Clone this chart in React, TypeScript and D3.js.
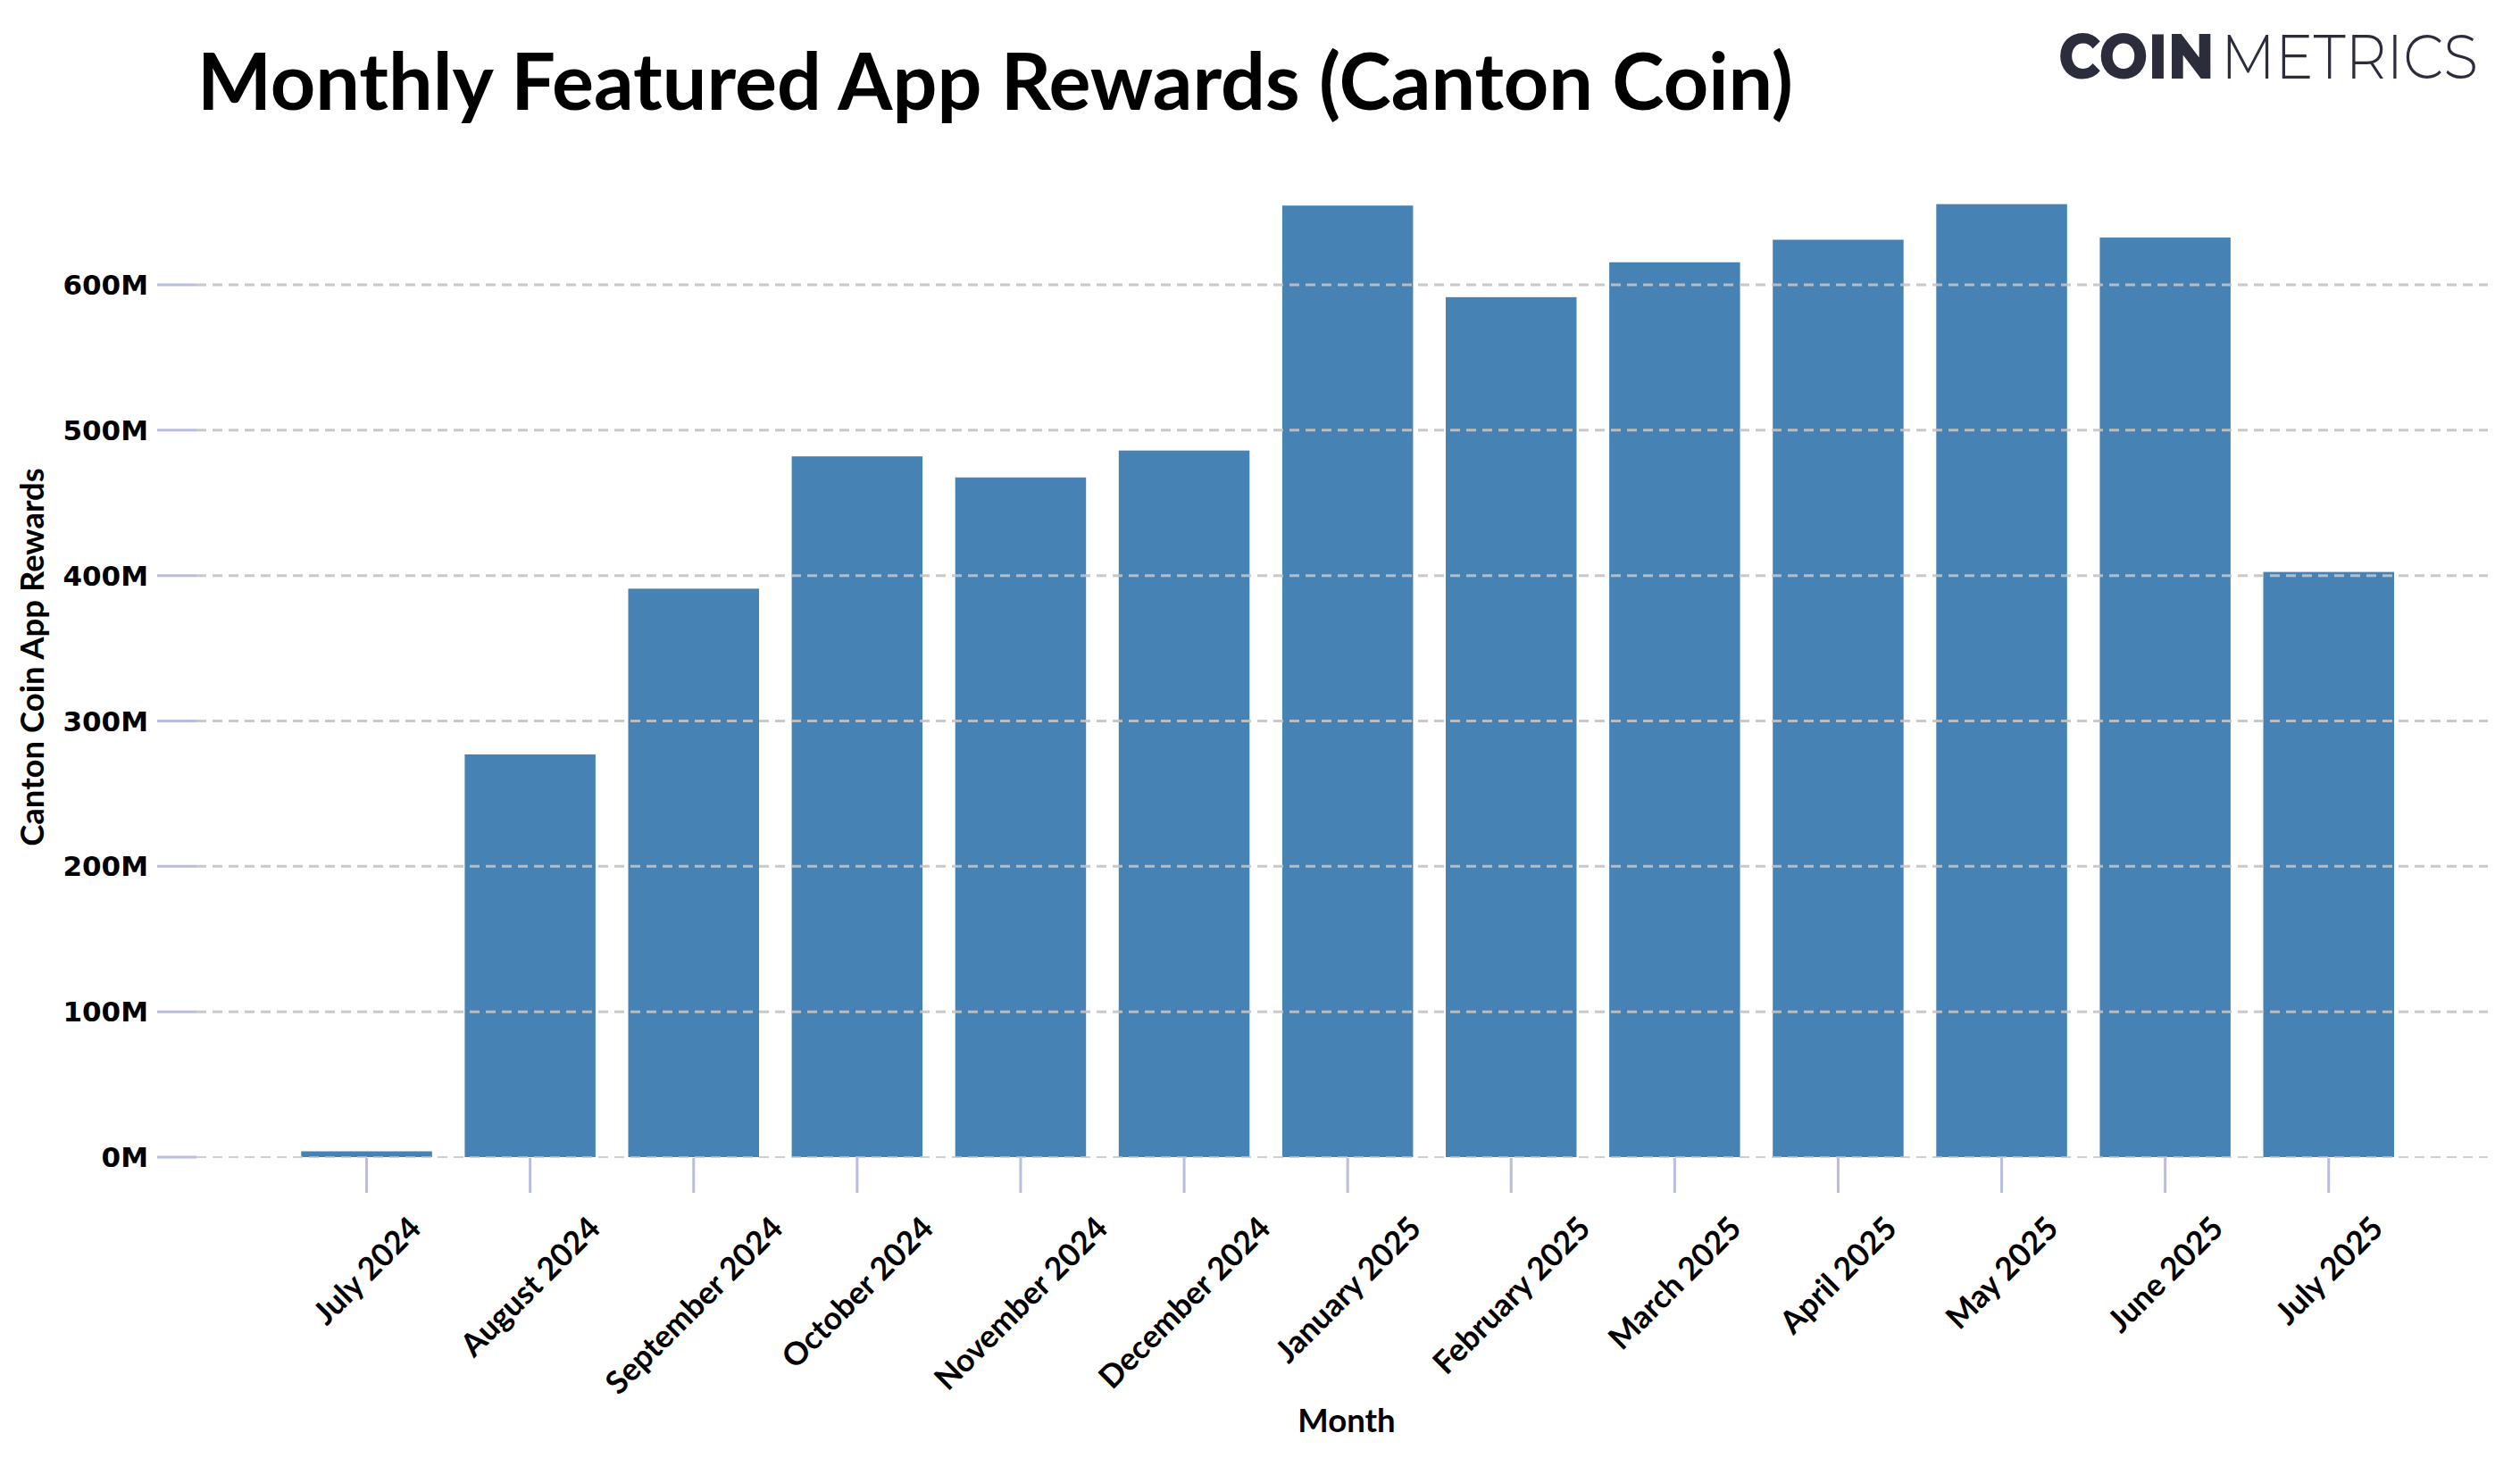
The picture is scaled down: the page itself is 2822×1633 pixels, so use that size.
import React from "react";
import * as d3 from "d3";

const months = [
  "July 2024", "August 2024", "September 2024", "October 2024", "November 2024",
  "December 2024", "January 2025", "February 2025", "March 2025", "April 2025",
  "May 2025", "June 2025", "July 2025",
];
const rewards = [
  4.0e6, 277e6, 391e6, 482e6, 467.5e6, 486e6, 654.5e6, 591.5e6, 615.5e6, 631e6,
  655.5e6, 632.5e6, 402.5e6,
];
const yTicks = [0, 100e6, 200e6, 300e6, 400e6, 500e6, 600e6];

const W = 2822;
const H = 1633;
const FONT = "Lato, 'Noto Sans', sans-serif";
const TICK_FONT_SIZE = 35.5;

let measureCtx: CanvasRenderingContext2D | null = null;
function textWidth(s: string, font: string): number {
  if (typeof document === "undefined") return s.length * 17;
  if (!measureCtx) measureCtx = document.createElement("canvas").getContext("2d");
  if (!measureCtx) return s.length * 17;
  measureCtx.font = font;
  return measureCtx.measureText(s).width;
}

export default function App() {
  const x = d3.scaleBand<string>().domain(months).range([319, 2699.3]).paddingInner(0.2).paddingOuter(0.1);
  const y = d3.scaleLinear().domain([0, 600e6]).range([1296, 319]);
  const fmt = (v: number) => `${Math.round(v / 1e6)}M`;
  const gridX0 = 220;
  const gridX1 = 2786;
  const tickColor = "#b9bde0";
  const capH = 25;

  return (
    <svg width={W} height={H} style={{ position: "absolute", left: 0, top: 0, background: "#fff" }}>
      <rect x={0} y={0} width={W} height={H} fill="#fff" />
      <text x={221} y={123} fontFamily={FONT} fontWeight={700} fontSize={88} fill="#000">
        Monthly Featured App Rewards (Canton Coin)
      </text>
      <text x={2305} y={88} fontFamily="Montserrat, 'Noto Sans', Lato, sans-serif" fontSize={71} fontWeight={800} fill="#2b2d3d" textLength={175} lengthAdjust="spacingAndGlyphs">
        COIN
      </text>
      <text x={2487} y={88} fontFamily="Montserrat, 'Noto Sans', Lato, sans-serif" fontSize={71} fontWeight={300} fill="#2b2d3d" textLength={288} lengthAdjust="spacingAndGlyphs">
        METRICS
      </text>

      {rewards.map((v, i) => (
        <rect key={months[i]} x={x(months[i])} y={y(v)} width={x.bandwidth()} height={y(0) - y(v)} fill="#4682b4" />
      ))}

      {yTicks.map((t) => (
        <g key={t}>
          <line x1={gridX0} x2={gridX1} y1={y(t)} y2={y(t)} stroke="#c4c4c4" strokeWidth={t === 0 ? 2 : 3} strokeDasharray="11,7" opacity={t === 0 ? 0.8 : 0.9} />
          <line x1={176} x2={220} y1={y(t)} y2={y(t)} stroke={tickColor} strokeWidth={3} />
          <text x={166} y={y(t)} dy="0.36em" textAnchor="end" fontFamily="'DejaVu Sans', sans-serif" fontWeight={700} fontSize={31} fill="#000">
            {fmt(t)}
          </text>
        </g>
      ))}

      {months.map((m) => {
        const cx = (x(m) as number) + x.bandwidth() / 2;
        const L = textWidth(m, `bold ${TICK_FONT_SIZE}px Lato`);
        const ex = cx + 0.3536 * (L + capH);
        return (
          <g key={m}>
            <line x1={cx} x2={cx} y1={1297} y2={1336} stroke={tickColor} strokeWidth={3} />
            <text
              transform={`translate(${ex},${1378}) rotate(-45)`}
              textAnchor="end"
              fontFamily={FONT}
              fontWeight={700}
              fontSize={TICK_FONT_SIZE}
              fill="#000"
            >
              {m}
            </text>
          </g>
        );
      })}

      <text x={1508} y={1604} textAnchor="middle" fontFamily={FONT} fontWeight={700} fontSize={36.5} fill="#000">
        Month
      </text>
      <text
        transform={`translate(49,736) rotate(-90)`}
        textAnchor="middle"
        fontFamily={FONT}
        fontWeight={700}
        fontSize={36.5}
        fill="#000"
      >
        Canton Coin App Rewards
      </text>
    </svg>
  );
}
